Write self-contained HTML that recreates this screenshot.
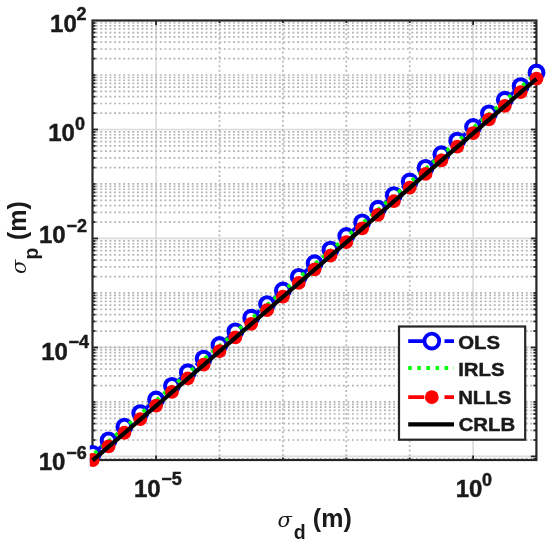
<!DOCTYPE html><html><head><meta charset="utf-8"><title>plot</title><style>html,body{margin:0;padding:0;background:#fff;overflow:hidden}svg{display:block}text{font-family:"Liberation Sans",sans-serif;font-weight:bold;fill:#1a1a1a;stroke:#1a1a1a;stroke-width:0.45px;paint-order:stroke}text.lab{stroke:none}</style></head><body>
<svg width="550" height="544" viewBox="0 0 550 544">
<rect x="0" y="0" width="550" height="544" fill="#fff"/>
<defs><clipPath id="dc"><rect x="89.8" y="0" width="460.2" height="544"/></clipPath></defs>
<g stroke="#dcdcdc" stroke-width="1.7" fill="none"><line x1="92.5" y1="129.48" x2="536.4" y2="129.48"/><line x1="92.5" y1="238.46" x2="536.4" y2="238.46"/><line x1="92.5" y1="347.44" x2="536.4" y2="347.44"/><line x1="92.5" y1="456.42" x2="536.4" y2="456.42"/><line x1="156.10" y1="20.5" x2="156.10" y2="460.0"/><line x1="473.10" y1="20.5" x2="473.10" y2="460.0"/></g>
<g stroke="#b4b4b4" stroke-width="1.7" stroke-dasharray="1.9 2.675" fill="none"><line x1="95.75" y1="458.91" x2="536.4" y2="458.91"/><line x1="95.75" y1="440.02" x2="536.4" y2="440.02"/><line x1="95.75" y1="430.42" x2="536.4" y2="430.42"/><line x1="95.75" y1="423.61" x2="536.4" y2="423.61"/><line x1="95.75" y1="418.33" x2="536.4" y2="418.33"/><line x1="95.75" y1="414.02" x2="536.4" y2="414.02"/><line x1="95.75" y1="410.37" x2="536.4" y2="410.37"/><line x1="95.75" y1="407.21" x2="536.4" y2="407.21"/><line x1="95.75" y1="404.42" x2="536.4" y2="404.42"/><line x1="95.75" y1="401.93" x2="536.4" y2="401.93"/><line x1="95.75" y1="385.53" x2="536.4" y2="385.53"/><line x1="95.75" y1="375.93" x2="536.4" y2="375.93"/><line x1="95.75" y1="369.12" x2="536.4" y2="369.12"/><line x1="95.75" y1="363.84" x2="536.4" y2="363.84"/><line x1="95.75" y1="359.53" x2="536.4" y2="359.53"/><line x1="95.75" y1="355.88" x2="536.4" y2="355.88"/><line x1="95.75" y1="352.72" x2="536.4" y2="352.72"/><line x1="95.75" y1="349.93" x2="536.4" y2="349.93"/><line x1="95.75" y1="347.44" x2="536.4" y2="347.44"/><line x1="95.75" y1="331.04" x2="536.4" y2="331.04"/><line x1="95.75" y1="321.44" x2="536.4" y2="321.44"/><line x1="95.75" y1="314.63" x2="536.4" y2="314.63"/><line x1="95.75" y1="309.35" x2="536.4" y2="309.35"/><line x1="95.75" y1="305.04" x2="536.4" y2="305.04"/><line x1="95.75" y1="301.39" x2="536.4" y2="301.39"/><line x1="95.75" y1="298.23" x2="536.4" y2="298.23"/><line x1="95.75" y1="295.44" x2="536.4" y2="295.44"/><line x1="95.75" y1="292.95" x2="536.4" y2="292.95"/><line x1="95.75" y1="276.55" x2="536.4" y2="276.55"/><line x1="95.75" y1="266.95" x2="536.4" y2="266.95"/><line x1="95.75" y1="260.14" x2="536.4" y2="260.14"/><line x1="95.75" y1="254.86" x2="536.4" y2="254.86"/><line x1="95.75" y1="250.55" x2="536.4" y2="250.55"/><line x1="95.75" y1="246.90" x2="536.4" y2="246.90"/><line x1="95.75" y1="243.74" x2="536.4" y2="243.74"/><line x1="95.75" y1="240.95" x2="536.4" y2="240.95"/><line x1="95.75" y1="222.06" x2="536.4" y2="222.06"/><line x1="95.75" y1="212.46" x2="536.4" y2="212.46"/><line x1="95.75" y1="205.65" x2="536.4" y2="205.65"/><line x1="95.75" y1="200.37" x2="536.4" y2="200.37"/><line x1="95.75" y1="196.06" x2="536.4" y2="196.06"/><line x1="95.75" y1="192.41" x2="536.4" y2="192.41"/><line x1="95.75" y1="189.25" x2="536.4" y2="189.25"/><line x1="95.75" y1="186.46" x2="536.4" y2="186.46"/><line x1="95.75" y1="183.97" x2="536.4" y2="183.97"/><line x1="95.75" y1="167.57" x2="536.4" y2="167.57"/><line x1="95.75" y1="157.97" x2="536.4" y2="157.97"/><line x1="95.75" y1="151.16" x2="536.4" y2="151.16"/><line x1="95.75" y1="145.88" x2="536.4" y2="145.88"/><line x1="95.75" y1="141.57" x2="536.4" y2="141.57"/><line x1="95.75" y1="137.92" x2="536.4" y2="137.92"/><line x1="95.75" y1="134.76" x2="536.4" y2="134.76"/><line x1="95.75" y1="131.97" x2="536.4" y2="131.97"/><line x1="95.75" y1="113.08" x2="536.4" y2="113.08"/><line x1="95.75" y1="103.48" x2="536.4" y2="103.48"/><line x1="95.75" y1="96.67" x2="536.4" y2="96.67"/><line x1="95.75" y1="91.39" x2="536.4" y2="91.39"/><line x1="95.75" y1="87.08" x2="536.4" y2="87.08"/><line x1="95.75" y1="83.43" x2="536.4" y2="83.43"/><line x1="95.75" y1="80.27" x2="536.4" y2="80.27"/><line x1="95.75" y1="77.48" x2="536.4" y2="77.48"/><line x1="95.75" y1="74.99" x2="536.4" y2="74.99"/><line x1="95.75" y1="58.59" x2="536.4" y2="58.59"/><line x1="95.75" y1="48.99" x2="536.4" y2="48.99"/><line x1="95.75" y1="42.18" x2="536.4" y2="42.18"/><line x1="95.75" y1="36.90" x2="536.4" y2="36.90"/><line x1="95.75" y1="32.59" x2="536.4" y2="32.59"/><line x1="95.75" y1="28.94" x2="536.4" y2="28.94"/><line x1="95.75" y1="25.78" x2="536.4" y2="25.78"/><line x1="95.75" y1="22.99" x2="536.4" y2="22.99"/></g>
<g stroke="#b4b4b4" stroke-width="1.7" stroke-dasharray="1.9 2.675" fill="none"><line x1="219.50" y1="24.12" x2="219.50" y2="460.0"/><line x1="282.90" y1="24.12" x2="282.90" y2="460.0"/><line x1="346.30" y1="24.12" x2="346.30" y2="460.0"/><line x1="409.70" y1="24.12" x2="409.70" y2="460.0"/></g>
<g stroke="#262626" stroke-width="1.8" fill="none"><line x1="92.5" y1="458.91" x2="95.5" y2="458.91"/><line x1="536.4" y1="458.91" x2="533.4" y2="458.91"/><line x1="92.5" y1="456.42" x2="98.0" y2="456.42"/><line x1="536.4" y1="456.42" x2="530.9" y2="456.42"/><line x1="92.5" y1="440.02" x2="95.5" y2="440.02"/><line x1="536.4" y1="440.02" x2="533.4" y2="440.02"/><line x1="92.5" y1="430.42" x2="95.5" y2="430.42"/><line x1="536.4" y1="430.42" x2="533.4" y2="430.42"/><line x1="92.5" y1="423.61" x2="95.5" y2="423.61"/><line x1="536.4" y1="423.61" x2="533.4" y2="423.61"/><line x1="92.5" y1="418.33" x2="95.5" y2="418.33"/><line x1="536.4" y1="418.33" x2="533.4" y2="418.33"/><line x1="92.5" y1="414.02" x2="95.5" y2="414.02"/><line x1="536.4" y1="414.02" x2="533.4" y2="414.02"/><line x1="92.5" y1="410.37" x2="95.5" y2="410.37"/><line x1="536.4" y1="410.37" x2="533.4" y2="410.37"/><line x1="92.5" y1="407.21" x2="95.5" y2="407.21"/><line x1="536.4" y1="407.21" x2="533.4" y2="407.21"/><line x1="92.5" y1="404.42" x2="95.5" y2="404.42"/><line x1="536.4" y1="404.42" x2="533.4" y2="404.42"/><line x1="92.5" y1="401.93" x2="95.5" y2="401.93"/><line x1="536.4" y1="401.93" x2="533.4" y2="401.93"/><line x1="92.5" y1="385.53" x2="95.5" y2="385.53"/><line x1="536.4" y1="385.53" x2="533.4" y2="385.53"/><line x1="92.5" y1="375.93" x2="95.5" y2="375.93"/><line x1="536.4" y1="375.93" x2="533.4" y2="375.93"/><line x1="92.5" y1="369.12" x2="95.5" y2="369.12"/><line x1="536.4" y1="369.12" x2="533.4" y2="369.12"/><line x1="92.5" y1="363.84" x2="95.5" y2="363.84"/><line x1="536.4" y1="363.84" x2="533.4" y2="363.84"/><line x1="92.5" y1="359.53" x2="95.5" y2="359.53"/><line x1="536.4" y1="359.53" x2="533.4" y2="359.53"/><line x1="92.5" y1="355.88" x2="95.5" y2="355.88"/><line x1="536.4" y1="355.88" x2="533.4" y2="355.88"/><line x1="92.5" y1="352.72" x2="95.5" y2="352.72"/><line x1="536.4" y1="352.72" x2="533.4" y2="352.72"/><line x1="92.5" y1="349.93" x2="95.5" y2="349.93"/><line x1="536.4" y1="349.93" x2="533.4" y2="349.93"/><line x1="92.5" y1="347.44" x2="98.0" y2="347.44"/><line x1="536.4" y1="347.44" x2="530.9" y2="347.44"/><line x1="92.5" y1="331.04" x2="95.5" y2="331.04"/><line x1="536.4" y1="331.04" x2="533.4" y2="331.04"/><line x1="92.5" y1="321.44" x2="95.5" y2="321.44"/><line x1="536.4" y1="321.44" x2="533.4" y2="321.44"/><line x1="92.5" y1="314.63" x2="95.5" y2="314.63"/><line x1="536.4" y1="314.63" x2="533.4" y2="314.63"/><line x1="92.5" y1="309.35" x2="95.5" y2="309.35"/><line x1="536.4" y1="309.35" x2="533.4" y2="309.35"/><line x1="92.5" y1="305.04" x2="95.5" y2="305.04"/><line x1="536.4" y1="305.04" x2="533.4" y2="305.04"/><line x1="92.5" y1="301.39" x2="95.5" y2="301.39"/><line x1="536.4" y1="301.39" x2="533.4" y2="301.39"/><line x1="92.5" y1="298.23" x2="95.5" y2="298.23"/><line x1="536.4" y1="298.23" x2="533.4" y2="298.23"/><line x1="92.5" y1="295.44" x2="95.5" y2="295.44"/><line x1="536.4" y1="295.44" x2="533.4" y2="295.44"/><line x1="92.5" y1="292.95" x2="95.5" y2="292.95"/><line x1="536.4" y1="292.95" x2="533.4" y2="292.95"/><line x1="92.5" y1="276.55" x2="95.5" y2="276.55"/><line x1="536.4" y1="276.55" x2="533.4" y2="276.55"/><line x1="92.5" y1="266.95" x2="95.5" y2="266.95"/><line x1="536.4" y1="266.95" x2="533.4" y2="266.95"/><line x1="92.5" y1="260.14" x2="95.5" y2="260.14"/><line x1="536.4" y1="260.14" x2="533.4" y2="260.14"/><line x1="92.5" y1="254.86" x2="95.5" y2="254.86"/><line x1="536.4" y1="254.86" x2="533.4" y2="254.86"/><line x1="92.5" y1="250.55" x2="95.5" y2="250.55"/><line x1="536.4" y1="250.55" x2="533.4" y2="250.55"/><line x1="92.5" y1="246.90" x2="95.5" y2="246.90"/><line x1="536.4" y1="246.90" x2="533.4" y2="246.90"/><line x1="92.5" y1="243.74" x2="95.5" y2="243.74"/><line x1="536.4" y1="243.74" x2="533.4" y2="243.74"/><line x1="92.5" y1="240.95" x2="95.5" y2="240.95"/><line x1="536.4" y1="240.95" x2="533.4" y2="240.95"/><line x1="92.5" y1="238.46" x2="98.0" y2="238.46"/><line x1="536.4" y1="238.46" x2="530.9" y2="238.46"/><line x1="92.5" y1="222.06" x2="95.5" y2="222.06"/><line x1="536.4" y1="222.06" x2="533.4" y2="222.06"/><line x1="92.5" y1="212.46" x2="95.5" y2="212.46"/><line x1="536.4" y1="212.46" x2="533.4" y2="212.46"/><line x1="92.5" y1="205.65" x2="95.5" y2="205.65"/><line x1="536.4" y1="205.65" x2="533.4" y2="205.65"/><line x1="92.5" y1="200.37" x2="95.5" y2="200.37"/><line x1="536.4" y1="200.37" x2="533.4" y2="200.37"/><line x1="92.5" y1="196.06" x2="95.5" y2="196.06"/><line x1="536.4" y1="196.06" x2="533.4" y2="196.06"/><line x1="92.5" y1="192.41" x2="95.5" y2="192.41"/><line x1="536.4" y1="192.41" x2="533.4" y2="192.41"/><line x1="92.5" y1="189.25" x2="95.5" y2="189.25"/><line x1="536.4" y1="189.25" x2="533.4" y2="189.25"/><line x1="92.5" y1="186.46" x2="95.5" y2="186.46"/><line x1="536.4" y1="186.46" x2="533.4" y2="186.46"/><line x1="92.5" y1="183.97" x2="95.5" y2="183.97"/><line x1="536.4" y1="183.97" x2="533.4" y2="183.97"/><line x1="92.5" y1="167.57" x2="95.5" y2="167.57"/><line x1="536.4" y1="167.57" x2="533.4" y2="167.57"/><line x1="92.5" y1="157.97" x2="95.5" y2="157.97"/><line x1="536.4" y1="157.97" x2="533.4" y2="157.97"/><line x1="92.5" y1="151.16" x2="95.5" y2="151.16"/><line x1="536.4" y1="151.16" x2="533.4" y2="151.16"/><line x1="92.5" y1="145.88" x2="95.5" y2="145.88"/><line x1="536.4" y1="145.88" x2="533.4" y2="145.88"/><line x1="92.5" y1="141.57" x2="95.5" y2="141.57"/><line x1="536.4" y1="141.57" x2="533.4" y2="141.57"/><line x1="92.5" y1="137.92" x2="95.5" y2="137.92"/><line x1="536.4" y1="137.92" x2="533.4" y2="137.92"/><line x1="92.5" y1="134.76" x2="95.5" y2="134.76"/><line x1="536.4" y1="134.76" x2="533.4" y2="134.76"/><line x1="92.5" y1="131.97" x2="95.5" y2="131.97"/><line x1="536.4" y1="131.97" x2="533.4" y2="131.97"/><line x1="92.5" y1="129.48" x2="98.0" y2="129.48"/><line x1="536.4" y1="129.48" x2="530.9" y2="129.48"/><line x1="92.5" y1="113.08" x2="95.5" y2="113.08"/><line x1="536.4" y1="113.08" x2="533.4" y2="113.08"/><line x1="92.5" y1="103.48" x2="95.5" y2="103.48"/><line x1="536.4" y1="103.48" x2="533.4" y2="103.48"/><line x1="92.5" y1="96.67" x2="95.5" y2="96.67"/><line x1="536.4" y1="96.67" x2="533.4" y2="96.67"/><line x1="92.5" y1="91.39" x2="95.5" y2="91.39"/><line x1="536.4" y1="91.39" x2="533.4" y2="91.39"/><line x1="92.5" y1="87.08" x2="95.5" y2="87.08"/><line x1="536.4" y1="87.08" x2="533.4" y2="87.08"/><line x1="92.5" y1="83.43" x2="95.5" y2="83.43"/><line x1="536.4" y1="83.43" x2="533.4" y2="83.43"/><line x1="92.5" y1="80.27" x2="95.5" y2="80.27"/><line x1="536.4" y1="80.27" x2="533.4" y2="80.27"/><line x1="92.5" y1="77.48" x2="95.5" y2="77.48"/><line x1="536.4" y1="77.48" x2="533.4" y2="77.48"/><line x1="92.5" y1="74.99" x2="95.5" y2="74.99"/><line x1="536.4" y1="74.99" x2="533.4" y2="74.99"/><line x1="92.5" y1="58.59" x2="95.5" y2="58.59"/><line x1="536.4" y1="58.59" x2="533.4" y2="58.59"/><line x1="92.5" y1="48.99" x2="95.5" y2="48.99"/><line x1="536.4" y1="48.99" x2="533.4" y2="48.99"/><line x1="92.5" y1="42.18" x2="95.5" y2="42.18"/><line x1="536.4" y1="42.18" x2="533.4" y2="42.18"/><line x1="92.5" y1="36.90" x2="95.5" y2="36.90"/><line x1="536.4" y1="36.90" x2="533.4" y2="36.90"/><line x1="92.5" y1="32.59" x2="95.5" y2="32.59"/><line x1="536.4" y1="32.59" x2="533.4" y2="32.59"/><line x1="92.5" y1="28.94" x2="95.5" y2="28.94"/><line x1="536.4" y1="28.94" x2="533.4" y2="28.94"/><line x1="92.5" y1="25.78" x2="95.5" y2="25.78"/><line x1="536.4" y1="25.78" x2="533.4" y2="25.78"/><line x1="92.5" y1="22.99" x2="95.5" y2="22.99"/><line x1="536.4" y1="22.99" x2="533.4" y2="22.99"/><line x1="156.10" y1="460.0" x2="156.10" y2="455.5"/><line x1="156.10" y1="20.5" x2="156.10" y2="25.0"/><line x1="219.50" y1="460.0" x2="219.50" y2="457.5"/><line x1="219.50" y1="20.5" x2="219.50" y2="23.0"/><line x1="282.90" y1="460.0" x2="282.90" y2="457.5"/><line x1="282.90" y1="20.5" x2="282.90" y2="23.0"/><line x1="346.30" y1="460.0" x2="346.30" y2="457.5"/><line x1="346.30" y1="20.5" x2="346.30" y2="23.0"/><line x1="409.70" y1="460.0" x2="409.70" y2="457.5"/><line x1="409.70" y1="20.5" x2="409.70" y2="23.0"/><line x1="473.10" y1="460.0" x2="473.10" y2="455.5"/><line x1="473.10" y1="20.5" x2="473.10" y2="25.0"/></g>
<rect x="92.5" y="20.5" width="443.9" height="439.5" fill="none" stroke="#262626" stroke-width="2.2"/>
<g clip-path="url(#dc)">
<polyline points="92.70,453.97 108.55,440.35 124.40,426.72 140.25,413.10 156.10,399.48 171.95,385.86 187.80,372.23 203.65,358.61 219.50,344.99 235.35,331.37 251.20,317.74 267.05,304.12 282.90,290.50 298.75,276.88 314.60,263.25 330.45,249.63 346.30,236.01 362.15,222.39 378.00,208.76 393.85,195.14 409.70,181.52 425.55,167.90 441.40,154.27 457.25,140.65 473.10,127.03 488.95,113.41 504.80,99.78 520.65,86.16 536.50,72.54" fill="none" stroke="#0000ff" stroke-width="3.6" stroke-dasharray="16 18"/>
<g fill="#fff" stroke="#0000ff" stroke-width="4.1"><circle cx="92.70" cy="453.97" r="6.9"/><circle cx="108.55" cy="440.35" r="6.9"/><circle cx="124.40" cy="426.72" r="6.9"/><circle cx="140.25" cy="413.10" r="6.9"/><circle cx="156.10" cy="399.48" r="6.9"/><circle cx="171.95" cy="385.86" r="6.9"/><circle cx="187.80" cy="372.23" r="6.9"/><circle cx="203.65" cy="358.61" r="6.9"/><circle cx="219.50" cy="344.99" r="6.9"/><circle cx="235.35" cy="331.37" r="6.9"/><circle cx="251.20" cy="317.74" r="6.9"/><circle cx="267.05" cy="304.12" r="6.9"/><circle cx="282.90" cy="290.50" r="6.9"/><circle cx="298.75" cy="276.88" r="6.9"/><circle cx="314.60" cy="263.25" r="6.9"/><circle cx="330.45" cy="249.63" r="6.9"/><circle cx="346.30" cy="236.01" r="6.9"/><circle cx="362.15" cy="222.39" r="6.9"/><circle cx="378.00" cy="208.76" r="6.9"/><circle cx="393.85" cy="195.14" r="6.9"/><circle cx="409.70" cy="181.52" r="6.9"/><circle cx="425.55" cy="167.90" r="6.9"/><circle cx="441.40" cy="154.27" r="6.9"/><circle cx="457.25" cy="140.65" r="6.9"/><circle cx="473.10" cy="127.03" r="6.9"/><circle cx="488.95" cy="113.41" r="6.9"/><circle cx="504.80" cy="99.78" r="6.9"/><circle cx="520.65" cy="86.16" r="6.9"/><circle cx="536.50" cy="72.54" r="6.9"/></g>
<polyline points="92.70,454.79 108.55,441.16 124.40,427.54 140.25,413.92 156.10,400.30 171.95,386.67 187.80,373.05 203.65,359.43 219.50,345.81 235.35,332.18 251.20,318.56 267.05,304.94 282.90,291.32 298.75,277.69 314.60,264.07 330.45,250.45 346.30,236.83 362.15,223.20 378.00,209.58 393.85,195.96 409.70,182.34 425.55,168.71 441.40,155.09 457.25,141.47 473.10,127.85 488.95,114.22 504.80,100.60 520.65,86.98 536.50,73.36" fill="none" stroke="#00ff00" stroke-width="3.6" stroke-dasharray="3.6 5.5" stroke-dashoffset="-2.3"/>
<polyline points="92.70,460.02 108.55,446.39 124.40,432.77 140.25,419.15 156.10,405.53 171.95,391.90 187.80,378.28 203.65,364.66 219.50,351.04 235.35,337.41 251.20,323.79 267.05,310.17 282.90,296.55 298.75,282.92 314.60,269.30 330.45,255.68 346.30,242.06 362.15,228.43 378.00,214.81 393.85,201.19 409.70,187.57 425.55,173.94 441.40,160.32 457.25,146.70 473.10,133.08 488.95,119.45 504.80,105.83 520.65,92.21 536.50,78.59" fill="none" stroke="#ff0000" stroke-width="3.6" stroke-dasharray="16 18"/>
<g fill="#ff0000" stroke="none"><circle cx="92.70" cy="460.02" r="6.9"/><circle cx="108.55" cy="446.39" r="6.9"/><circle cx="124.40" cy="432.77" r="6.9"/><circle cx="140.25" cy="419.15" r="6.9"/><circle cx="156.10" cy="405.53" r="6.9"/><circle cx="171.95" cy="391.90" r="6.9"/><circle cx="187.80" cy="378.28" r="6.9"/><circle cx="203.65" cy="364.66" r="6.9"/><circle cx="219.50" cy="351.04" r="6.9"/><circle cx="235.35" cy="337.41" r="6.9"/><circle cx="251.20" cy="323.79" r="6.9"/><circle cx="267.05" cy="310.17" r="6.9"/><circle cx="282.90" cy="296.55" r="6.9"/><circle cx="298.75" cy="282.92" r="6.9"/><circle cx="314.60" cy="269.30" r="6.9"/><circle cx="330.45" cy="255.68" r="6.9"/><circle cx="346.30" cy="242.06" r="6.9"/><circle cx="362.15" cy="228.43" r="6.9"/><circle cx="378.00" cy="214.81" r="6.9"/><circle cx="393.85" cy="201.19" r="6.9"/><circle cx="409.70" cy="187.57" r="6.9"/><circle cx="425.55" cy="173.94" r="6.9"/><circle cx="441.40" cy="160.32" r="6.9"/><circle cx="457.25" cy="146.70" r="6.9"/><circle cx="473.10" cy="133.08" r="6.9"/><circle cx="488.95" cy="119.45" r="6.9"/><circle cx="504.80" cy="105.83" r="6.9"/><circle cx="520.65" cy="92.21" r="6.9"/><circle cx="536.50" cy="78.59" r="6.9"/></g>
<line x1="92.70" y1="460.29" x2="536.50" y2="78.86" stroke="#000" stroke-width="4.2"/>
</g>
<text x="50.09" y="31.60" font-size="24">10</text>
<text x="76.48" y="19.60" font-size="18">2</text>
<text x="48.19" y="140.80" font-size="24">10</text>
<text x="74.89" y="129.80" font-size="18">0</text>
<text x="38.89" y="242.60" font-size="24">10</text>
<text x="66.55" y="231.60" font-size="18">−2</text>
<text x="41.19" y="359.60" font-size="24">10</text>
<text x="68.45" y="348.00" font-size="18">−4</text>
<text x="38.69" y="470.20" font-size="24">10</text>
<text x="66.15" y="458.60" font-size="18">−6</text>
<text x="133.89" y="497.30" font-size="24">10</text>
<text x="161.15" y="485.40" font-size="18">−5</text>
<text x="455.69" y="497.30" font-size="24">10</text>
<text x="481.89" y="485.90" font-size="18">0</text>
<text x="277.60" y="527" style="font-family:&quot;DejaVu Serif&quot;,serif;font-style:italic;font-weight:normal;stroke:none" font-size="21">σ</text>
<text x="293.70" y="539.00" font-size="19.5" class="lab">d</text>
<text x="312.86" y="527.00" font-size="25" class="lab">(m)</text>
<g transform="translate(26,0) rotate(-90)">
<text x="-274.10" y="0" style="font-family:&quot;DejaVu Serif&quot;,serif;font-style:italic;font-weight:normal;stroke:none" font-size="21">σ</text>
<text x="-259.59" y="12.20" font-size="19.5" class="lab">p</text>
<text x="-240.00" y="0.00" font-size="25" class="lab">(m)</text>
</g>
<rect x="399" y="326.5" width="126.2" height="113.2" fill="#fff" stroke="#262626" stroke-width="2.2"/>
<line x1="408.2" y1="341.1" x2="454.0" y2="341.1" stroke="#0000ff" stroke-width="3.8" stroke-dasharray="16 20.3"/>
<circle cx="431.8" cy="341.1" r="7.4" fill="#fff" stroke="#0000ff" stroke-width="3.8"/>
<line x1="408.2" y1="368.0" x2="454.0" y2="368.0" stroke="#00ff00" stroke-width="3.8" stroke-dasharray="3.6 5.5"/>
<line x1="408.2" y1="397.2" x2="454.0" y2="397.2" stroke="#ff0000" stroke-width="3.8" stroke-dasharray="16 20.3"/>
<circle cx="431.8" cy="397.2" r="6.9" fill="#ff0000"/>
<line x1="408.2" y1="424.4" x2="454.0" y2="424.4" stroke="#000" stroke-width="4.2"/>
<text transform="translate(458.17,349.00) scale(1.06,1)" x="0" y="0" font-size="19.2">OLS</text>
<text transform="translate(458.14,376.00) scale(1.06,1)" x="0" y="0" font-size="19.2">IRLS</text>
<text transform="translate(458.14,404.00) scale(1.06,1)" x="0" y="0" font-size="19.2">NLLS</text>
<text transform="translate(458.67,431.30) scale(1.06,1)" x="0" y="0" font-size="19.2">CRLB</text>
</svg></body></html>
